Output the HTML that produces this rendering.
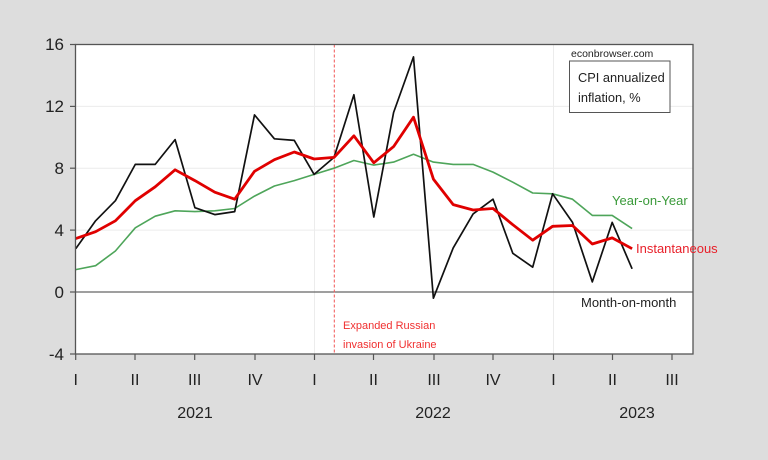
<!DOCTYPE html>
<html><head><meta charset="utf-8"><style>
html,body{margin:0;padding:0;background:#dddddd;}
svg{display:block;font-family:"Liberation Sans",sans-serif;}
</style></head><body>
<svg id="s" width="768" height="460" viewBox="0 0 768 460" xmlns="http://www.w3.org/2000/svg">
<rect x="0" y="0" width="768" height="460" fill="#dddddd"/>
<rect x="75.5" y="44.5" width="617.5" height="309.5" fill="#fff"/>
<g stroke="#ececec" stroke-width="1">
<line x1="75.5" x2="693" y1="106.4" y2="106.4"/>
<line x1="75.5" x2="693" y1="168.2" y2="168.2"/>
<line x1="75.5" x2="693" y1="230.1" y2="230.1"/>
<line x1="314.5" x2="314.5" y1="44.5" y2="354"/>
<line x1="553.5" x2="553.5" y1="44.5" y2="354"/>
</g>
<line x1="75.5" x2="693" y1="292" y2="292" stroke="#666" stroke-width="1.3"/>
<line x1="334.3" x2="334.3" y1="44.5" y2="354" stroke="#f25555" stroke-width="1" stroke-dasharray="3,2"/>
<g id="series"></g>
<rect x="75.5" y="44.5" width="617.5" height="309.5" fill="none" stroke="#555" stroke-width="1.3"/>
<g stroke="#555" stroke-width="1.2">
<line x1="70" x2="75.5" y1="44.5" y2="44.5"/><line x1="70" x2="75.5" y1="106.4" y2="106.4"/>
<line x1="70" x2="75.5" y1="168.2" y2="168.2"/><line x1="70" x2="75.5" y1="230.1" y2="230.1"/>
<line x1="70" x2="75.5" y1="292" y2="292"/><line x1="70" x2="75.5" y1="354" y2="354"/>
</g>
<g id="xt" stroke="#555" stroke-width="1.2"></g>
<g font-size="17" fill="#222" text-anchor="end">
<text x="64" y="50">16</text><text x="64" y="112">12</text><text x="64" y="174">8</text>
<text x="64" y="236">4</text><text x="64" y="298">0</text><text x="64" y="360">-4</text>
</g>
<g font-size="16" fill="#222" text-anchor="middle">
<text x="75.7" y="385">I</text><text x="135" y="385">II</text><text x="194.7" y="385">III</text>
<text x="255" y="385">IV</text><text x="314.5" y="385">I</text><text x="373.5" y="385">II</text>
<text x="434" y="385">III</text><text x="493" y="385">IV</text><text x="553.5" y="385">I</text>
<text x="612.5" y="385">II</text><text x="672" y="385">III</text>
<text x="195" y="418">2021</text><text x="433" y="418">2022</text><text x="637" y="418">2023</text>
</g>
<text x="571" y="57" font-size="10.5" fill="#222">econbrowser.com</text>
<rect x="569.5" y="61" width="100.5" height="51.5" fill="#fff" stroke="#555" stroke-width="1"/>
<text x="578" y="82" font-size="12.8" fill="#222">CPI annualized</text>
<text x="578" y="102" font-size="12.8" fill="#222">inflation, %</text>
<text x="612" y="205" font-size="13" fill="#3a9a3a">Year-on-Year</text>
<text x="636" y="253" font-size="13" fill="#e8202a">Instantaneous</text>
<text x="581" y="307" font-size="13" fill="#222">Month-on-month</text>
<text x="343" y="329" font-size="11" fill="#f03030">Expanded Russian</text>
<text x="343" y="348" font-size="11" fill="#f03030">invasion of Ukraine</text>
</svg>
<script>
var mom=[2.8,4.6,5.9,8.25,8.25,9.85,5.45,5.0,5.2,11.45,9.9,9.8,7.6,8.7,12.75,4.85,11.6,15.2,-0.4,2.85,5.05,6.0,2.5,1.6,6.35,4.5,0.65,4.5,1.5];
var ins=[3.45,3.9,4.6,5.9,6.8,7.9,7.2,6.45,6.0,7.8,8.55,9.05,8.6,8.7,10.1,8.35,9.4,11.3,7.3,5.65,5.3,5.4,4.35,3.35,4.25,4.3,3.1,3.5,2.8];
var yoy=[1.45,1.7,2.65,4.15,4.9,5.25,5.2,5.25,5.4,6.2,6.85,7.2,7.6,8.0,8.5,8.2,8.4,8.9,8.4,8.25,8.25,7.75,7.1,6.4,6.35,6.0,4.95,4.95,4.1];
function pts(a){return a.map(function(v,i){return (75.7+19.87*i).toFixed(1)+","+(292-v*15.47).toFixed(1)}).join(" ");}
var g=document.getElementById("series"),ns="http://www.w3.org/2000/svg";
[[yoy,"#4ea55a",1.6],[mom,"#111",1.7],[ins,"#e00000",2.8]].forEach(function(s){
var p=document.createElementNS(ns,"polyline");p.setAttribute("points",pts(s[0]));p.setAttribute("fill","none");
p.setAttribute("stroke",s[1]);p.setAttribute("stroke-width",s[2]);p.setAttribute("stroke-linejoin","round");g.appendChild(p);});
var xt=document.getElementById("xt");
[75.7,135,194.7,255,314.5,373.5,434,493,553.5,612.5,672].forEach(function(x){
var l=document.createElementNS(ns,"line");l.setAttribute("x1",x);l.setAttribute("x2",x);l.setAttribute("y1",354);l.setAttribute("y2",360);xt.appendChild(l);});
</script>
</body></html>
